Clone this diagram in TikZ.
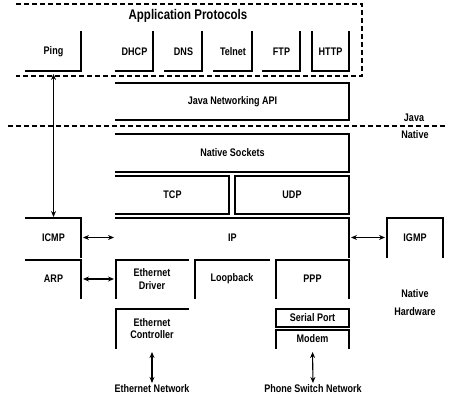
\documentclass[tikz,border=0pt]{standalone}
\usepackage{fontspec}
\setmainfont[FakeStretch=0.82]{Liberation Sans}
\usetikzlibrary{arrows.meta}
\begin{document}
\begin{tikzpicture}[x=1pt,y=-1pt,
  lbl/.style={inner sep=0pt, outer sep=0pt, align=center, font=\bfseries\fontsize{11}{12.8}\selectfont},
  box/.style={lbl, minimum width=#1},
  edge/.style={line width=1.2pt, line cap=rect},
  dsh/.style={line width=1.1pt, dash pattern=on 5pt off 3pt},
  dbl/.style={line width=1.1pt, {Stealth[length=6pt,width=5pt]}-{Stealth[length=6pt,width=5pt]}, shorten <=2pt, shorten >=2pt},
]
\useasboundingbox (0,0) rectangle (469,401);
% application protocols frame
\node[box=346pt, minimum height=72pt] (app) at (189,40) {};
\node[lbl, font=\bfseries\fontsize{14}{16}\selectfont] (apptitle) at (188,16) {Application Protocols};
\draw[dsh] (app.north west) -- (app.north east) -- (app.south east) -- (app.south west);
% java / native divider
\coordinate (jl) at (8,126);
\coordinate (jr) at (447,126);
\draw[dsh] (jl) -- (jr);
\node[lbl] (java) at (414,118) {Java};
\node[lbl] (native1) at (415,135) {Native};
\node[lbl] (native2) at (415,294) {Native};
\node[lbl] (hardware) at (415,312) {Hardware};
% application boxes
\node[box=55pt, minimum height=39pt] (ping) at (53.5,51.5) {Ping};
\node[box=37pt, minimum height=39pt] (dhcp) at (134.5,51.5) {DHCP};
\node[box=37pt, minimum height=39pt] (dns) at (183.5,51.5) {DNS};
\node[box=38pt, minimum height=39pt] (telnet) at (233,51.5) {Telnet};
\node[box=37pt, minimum height=39pt] (ftp) at (281.5,51.5) {FTP};
\node[box=37pt, minimum height=39pt] (http) at (330.5,51.5) {HTTP};
\foreach \n in {ping,dhcp,dns,telnet,ftp}
  \draw[edge] (\n.north east) -- (\n.south east) -- (\n.south west);
\draw[edge] (http.north west) -- (http.south west) -- (http.south east) -- (http.north east);
% java networking api
\node[box=233pt, minimum height=37pt] (api) at (232.5,101.5) {Java Networking API};
\draw[edge] (api.north west) -- (api.north east) -- (api.south east) -- (api.south west);
% native sockets
\node[box=233pt, minimum height=38pt] (sock) at (232.5,153) {Native Sockets};
\draw[edge] (sock.north west) -- (sock.north east) -- (sock.south east) -- (sock.south west);
% tcp udp
\node[box=113pt, minimum height=38pt] (tcp) at (172.5,195) {TCP};
\draw[edge] (tcp.north west) -- (tcp.north east) -- (tcp.south east) -- (tcp.south west);
\node[box=114pt, minimum height=38pt] (udp) at (292,195) {UDP};
\draw[edge] (udp.north west) rectangle (udp.south east);
% icmp ip igmp
\node[box=55pt, minimum height=39pt] (icmp) at (53.5,237.5) {ICMP};
\draw[edge] (icmp.north west) -- (icmp.north east) -- (icmp.south east);
\node[box=233pt, minimum height=39pt] (ip) at (232.5,237.5) {IP};
\draw[edge] (ip.north west) -- (ip.north east) -- (ip.south east);
\node[box=56pt, minimum height=39pt] (igmp) at (415,237.5) {IGMP};
\draw[edge] (igmp.south west) -- (igmp.north west) -- (igmp.north east) -- (igmp.south east);
% arp, drivers
\node[box=55pt, minimum height=38pt] (arp) at (53.5,279) {ARP};
\draw[edge] (arp.north west) -- (arp.north east) -- (arp.south east);
\node[box=72pt, minimum height=38pt] (edrv) at (152,279) {Ethernet\\Driver};
\draw[edge] (edrv.south west) -- (edrv.north west) -- (edrv.north east);
\node[box=74pt, minimum height=38pt] (loop) at (232,279) {Loopback};
\draw[edge] (loop.south west) -- (loop.north west) -- (loop.north east);
\node[box=73pt, minimum height=38pt] (ppp) at (312.5,279) {PPP};
\draw[edge] (ppp.south west) -- (ppp.north west) -- (ppp.north east) -- (ppp.south east);
% hardware
\node[box=72pt, minimum height=39pt] (ectl) at (152,328.5) {Ethernet\\Controller};
\draw[edge] (ectl.south west) -- (ectl.north west) -- (ectl.north east);
\node[box=73pt, minimum height=18pt] (serial) at (312.5,318) {Serial Port};
\draw[edge] (serial.north west) rectangle (serial.south east);
\node[box=73pt, minimum height=18pt] (modem) at (312.5,339) {Modem};
\draw[edge] (modem.south west) -- (modem.north west) -- (modem.north east) -- (modem.south east);
% networks
\node[lbl] (enet) at (152,389) {Ethernet Network};
\node[lbl] (phone) at (313,389) {Phone Switch Network};
% arrows
\draw[dbl, shorten <=3pt, shorten >=1pt] (ping.south) -- (icmp.north);
\draw[dbl] (icmp.east) -- (ip.west);
\draw[dbl] (ip.east) -- (igmp.west);
\draw[dbl] (arp.east) -- (edrv.west);
\draw[dbl, shorten <=4pt, shorten >=2pt] (ectl.south) -- (enet.north);
\draw[dbl, shorten <=4pt, shorten >=2pt] (modem.south) -- (phone.north);
\end{tikzpicture}
\end{document}
